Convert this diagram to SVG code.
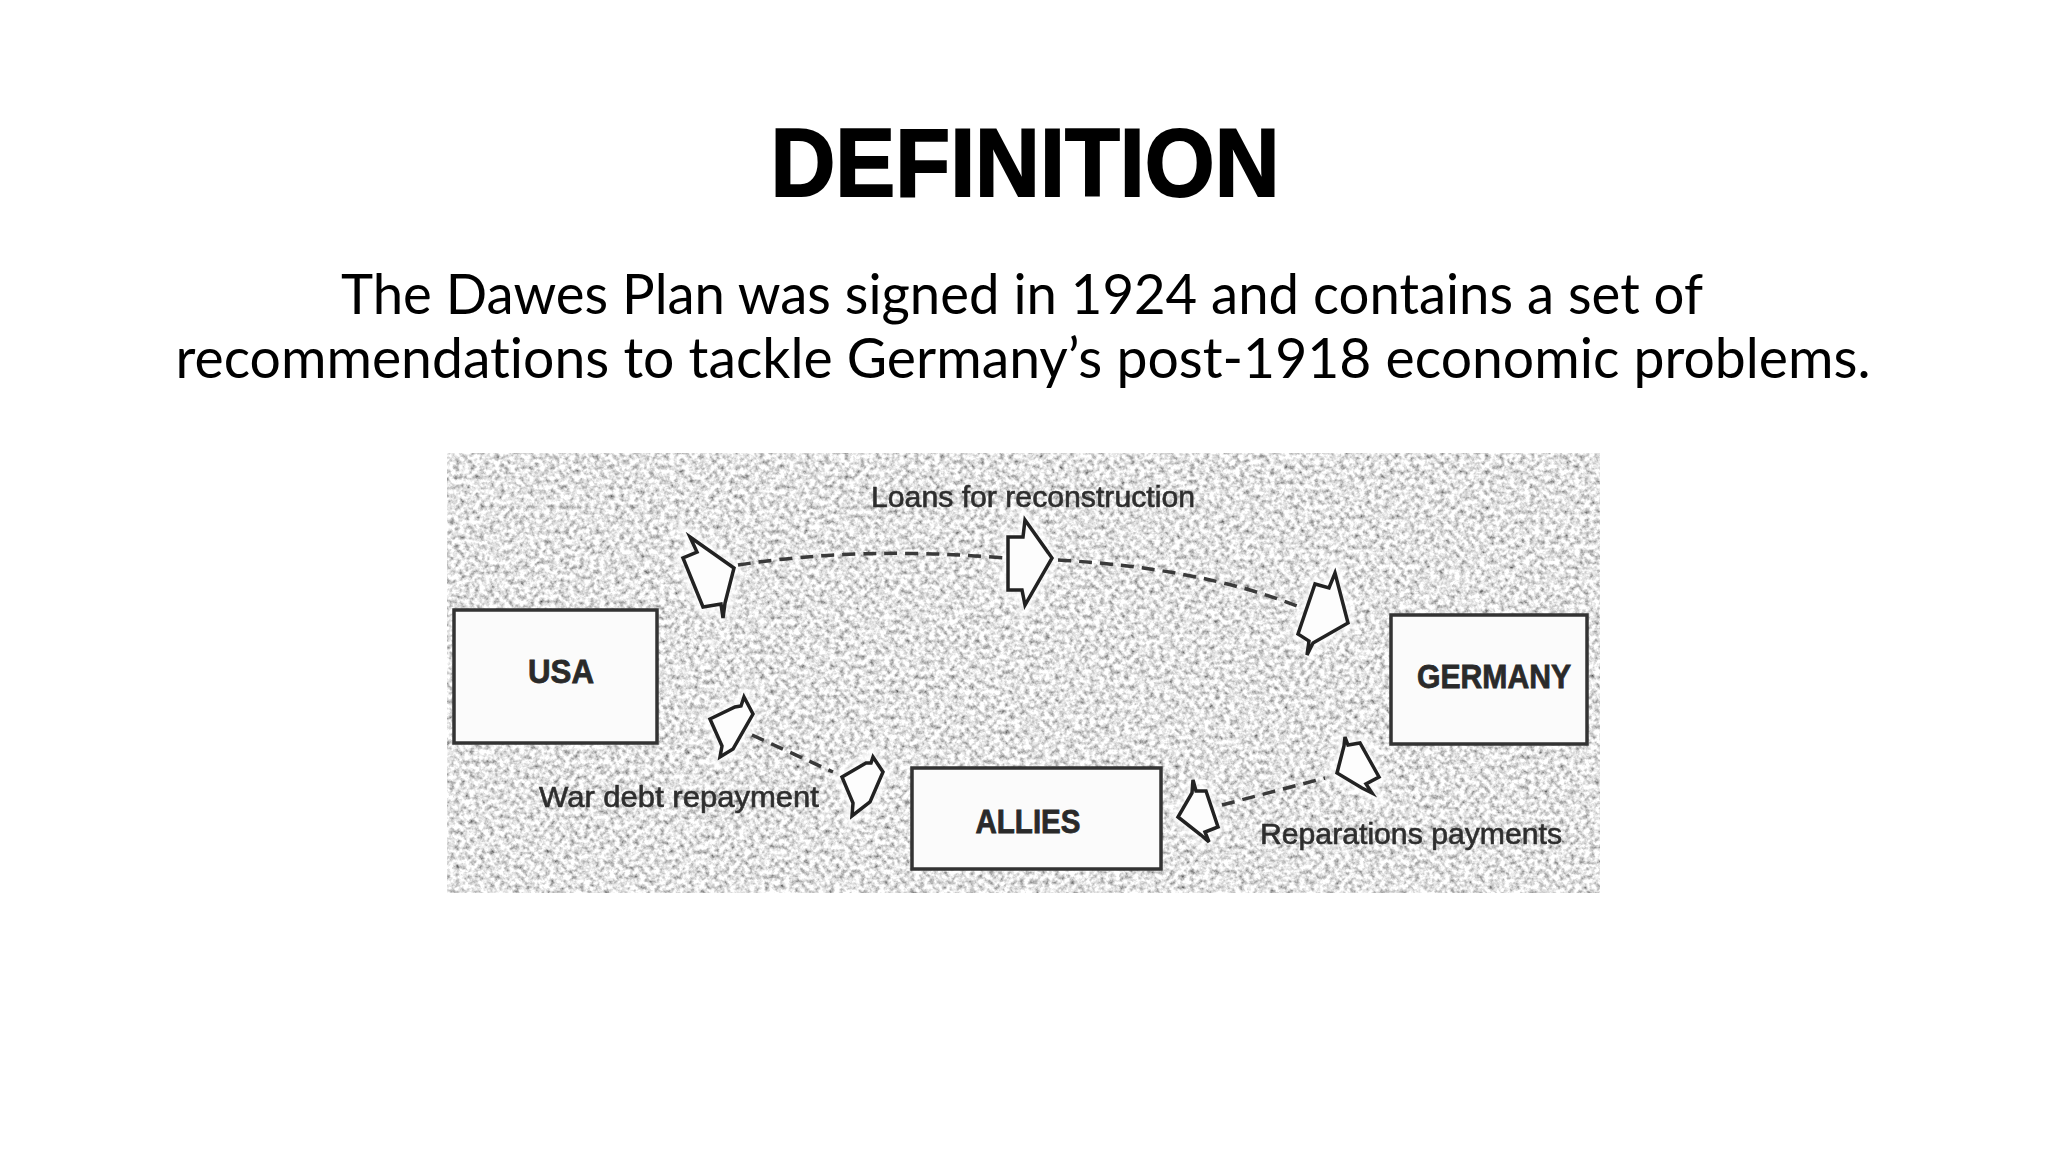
<svg xmlns="http://www.w3.org/2000/svg" width="2048" height="1152" viewBox="0 0 2048 1152">
<style>
.title{font-family:"Liberation Sans",Arial,sans-serif;font-weight:700;font-size:96px;fill:#000;stroke:#000;stroke-width:2}
.sub{font-family:"Lato","Open Sans",sans-serif;font-size:56px;fill:#000;font-variant-ligatures:none}
.box{fill:#fbfbfb;stroke:#333;stroke-width:3.5}
.boxlbl{font-family:"Liberation Sans",Arial,sans-serif;font-weight:700;font-size:33px;fill:#2a2a2a;stroke:#2a2a2a;stroke-width:0.8}
.lbl{font-family:"Liberation Sans",Arial,sans-serif;font-size:30px;fill:#2e2e2e;stroke:#2e2e2e;stroke-width:0.6}
.arr{fill:#fdfdfd;stroke:#222;stroke-width:3.5;stroke-linejoin:miter}
.halo{fill:none;stroke:#fff;stroke-width:14;opacity:0.8}
.dash{fill:none;stroke:#3a3a3a;stroke-width:3.5;stroke-dasharray:13 8}
</style>
<defs>
<filter id="grain" x="0" y="0" width="1" height="1" filterUnits="objectBoundingBox">
<feTurbulence type="fractalNoise" baseFrequency="0.2" numOctaves="3" seed="7" result="n"/>
<feColorMatrix in="n" type="matrix" values="1.6 0 0 0 -0.02  1.6 0 0 0 -0.02  1.6 0 0 0 -0.02  0 0 0 0 1"/>
</filter>
<filter id="soft" x="-0.2" y="-0.2" width="1.4" height="1.4"><feGaussianBlur stdDeviation="3"/></filter>
</defs>
<rect width="2048" height="1152" fill="#fff"/>
<text class="title" x="1025" y="196" text-anchor="middle" textLength="509" lengthAdjust="spacingAndGlyphs">DEFINITION</text>
<text class="sub" x="1022" y="314" text-anchor="middle" textLength="1362" lengthAdjust="spacingAndGlyphs">The Dawes Plan was signed in 1924 and contains a set of</text>
<text class="sub" x="1023" y="378" text-anchor="middle" textLength="1695" lengthAdjust="spacingAndGlyphs">recommendations to tackle Germany’s post-1918 economic problems.</text>
<g id="photo">
<rect x="447" y="453" width="1153" height="440" fill="#c8c8c8" filter="url(#grain)"/>
</g>
<g id="node-usa">
<rect class="box" x="454" y="610" width="203" height="133"/>
<text class="boxlbl" x="561" y="683" text-anchor="middle" textLength="66" lengthAdjust="spacingAndGlyphs">USA</text>
</g>
<g id="node-germany">
<rect class="box" x="1391" y="615" width="196" height="129"/>
<text class="boxlbl" x="1494" y="688" text-anchor="middle" textLength="154" lengthAdjust="spacingAndGlyphs">GERMANY</text>
</g>
<g id="node-allies">
<rect class="box" x="912" y="768" width="249" height="101"/>
<text class="boxlbl" x="1028" y="833" text-anchor="middle" textLength="105" lengthAdjust="spacingAndGlyphs">ALLIES</text>
</g>
<g id="connectors">
<g filter="url(#soft)">
<polygon class="halo" points="690,537 734,568 725,603 723,618 721,604 703,607 683,558 697,552"/>
<polygon class="halo" points="1025,520 1052,558 1025,605 1022,590 1008,590 1008,537 1023,537"/>
<polygon class="halo" points="1335,573 1348,623 1313,643 1307,655 1309,641 1298,634 1315,584 1329,588"/>
<polygon class="halo" points="744,697 753,714 733,749 720,757 722,746 710,719 735,707 741,706"/>
<polygon class="halo" points="873,757 883,772 870,802 852,816 853,803 842,777 866,763 871,763"/>
<polygon class="halo" points="1193,780 1196,791 1206,791 1218,827 1205,832 1209,842 1201,835 1178,817 1192,793"/>
<polygon class="halo" points="1345,737 1348,745 1360,743 1379,777 1366,784 1372,793 1362,788 1337,773 1344,746"/>
</g>
<path class="dash" d="M738,565 Q860,546 1006,558"/>
<path class="dash" d="M1058,560 Q1200,568 1297,606"/>
<path class="dash" d="M752,735 L833,772"/>
<path class="dash" d="M1222,805 L1325,778"/>
<polygon class="arr" points="690,537 734,568 725,603 723,618 721,604 703,607 683,558 697,552"/>
<polygon class="arr" points="1025,520 1052,558 1025,605 1022,590 1008,590 1008,537 1023,537"/>
<polygon class="arr" points="1335,573 1348,623 1313,643 1307,655 1309,641 1298,634 1315,584 1329,588"/>
<polygon class="arr" points="744,697 753,714 733,749 720,757 722,746 710,719 735,707 741,706"/>
<polygon class="arr" points="873,757 883,772 870,802 852,816 853,803 842,777 866,763 871,763"/>
<polygon class="arr" points="1193,780 1196,791 1206,791 1218,827 1205,832 1209,842 1201,835 1178,817 1192,793"/>
<polygon class="arr" points="1345,737 1348,745 1360,743 1379,777 1366,784 1372,793 1362,788 1337,773 1344,746"/>
</g>
<g id="labels">
<text class="lbl" x="1033" y="507" text-anchor="middle" textLength="324" lengthAdjust="spacingAndGlyphs">Loans for reconstruction</text>
<text class="lbl" x="679" y="807" text-anchor="middle" textLength="280" lengthAdjust="spacingAndGlyphs">War debt repayment</text>
<text class="lbl" x="1411" y="844" text-anchor="middle" textLength="302" lengthAdjust="spacingAndGlyphs">Reparations payments</text>
</g>
</svg>
